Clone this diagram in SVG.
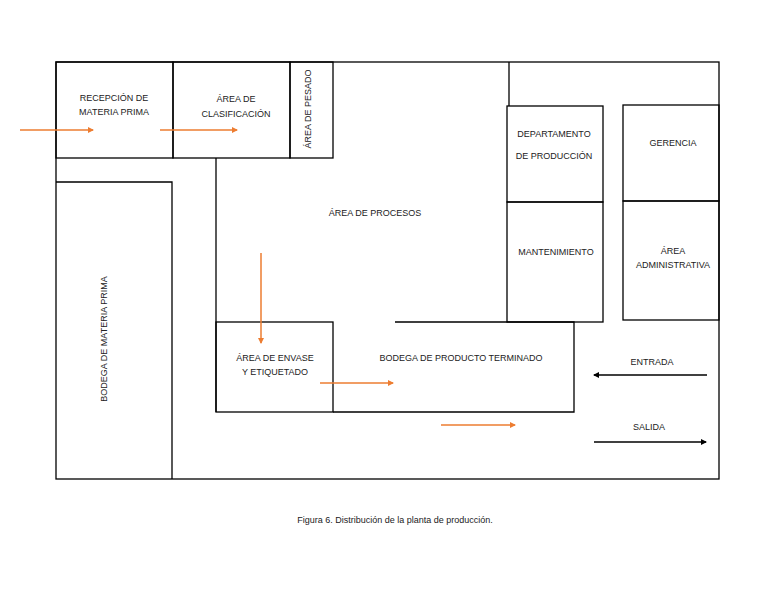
<svg xmlns="http://www.w3.org/2000/svg" width="768" height="594" viewBox="0 0 768 594">
<style>
.w{fill:none;stroke:#000;stroke-width:1.3}
.t{font-family:"Liberation Sans",Arial,sans-serif;font-size:9px;fill:#222;text-anchor:middle}
.o{stroke:#ED7D31;stroke-width:1.5;fill:none}
.k{stroke:#000;stroke-width:1.5;fill:none}
</style>
<defs>
<marker id="ao" markerWidth="6" markerHeight="6" refX="5" refY="3" orient="auto" markerUnits="userSpaceOnUse"><path d="M0,0L6,3L0,6z" fill="#ED7D31"/></marker>
<marker id="ak" markerWidth="6" markerHeight="6" refX="5" refY="3" orient="auto" markerUnits="userSpaceOnUse"><path d="M0,0L6,3L0,6z" fill="#000"/></marker>
</defs>
<rect width="768" height="594" fill="#fff"/>
<rect class="w" x="56" y="62" width="663" height="417" stroke-width="2"/>
<line class="w" x1="509" y1="62" x2="509" y2="106" stroke-width="2.5"/>
<line class="w" x1="216" y1="158" x2="216" y2="412"/>
<g id="recepcion"><rect class="w" x="56" y="62" width="117" height="96"/><text class="t" x="114" y="101">RECEPCIÓN DE</text><text class="t" x="114" y="115">MATERIA PRIMA</text></g>
<g id="clasificacion"><rect class="w" x="173" y="62" width="117" height="96"/><text class="t" x="236" y="102">ÁREA DE</text><text class="t" x="236" y="117">CLASIFICACIÓN</text></g>
<g id="pesado"><rect class="w" x="290" y="62" width="43" height="96"/><text class="t" transform="translate(311,109) rotate(-90)">ÁREA DE PESADO</text></g>
<g id="bodega-mp"><path class="w" d="M56,182H172V479"/><text class="t" transform="translate(107,339) rotate(-90)">BODEGA DE MATERIA PRIMA</text></g>
<g id="procesos"><text class="t" x="375" y="216">ÁREA DE PROCESOS</text></g>
<g id="envase"><rect class="w" x="216" y="322" width="117" height="90"/><text class="t" x="275" y="361">ÁREA DE ENVASE</text><text class="t" x="275" y="375">Y ETIQUETADO</text></g>
<g id="bodega-pt"><path class="w" d="M395,322H574V412H333"/><text class="t" x="461" y="361">BODEGA DE PRODUCTO TERMINADO</text></g>
<g id="departamento"><rect class="w" x="507" y="106" width="96" height="96"/><text class="t" x="554" y="137">DEPARTAMENTO</text><text class="t" x="554" y="159">DE PRODUCCIÓN</text></g>
<g id="mantenimiento"><rect class="w" x="507" y="202" width="96" height="120"/><text class="t" x="556" y="255">MANTENIMIENTO</text></g>
<g id="gerencia"><rect class="w" x="623" y="105" width="96" height="96"/><text class="t" x="673" y="146">GERENCIA</text></g>
<g id="administrativa"><rect class="w" x="623" y="201" width="96" height="119"/><text class="t" x="673" y="254">ÁREA</text><text class="t" x="673" y="268">ADMINISTRATIVA</text></g>
<g id="labels"><text class="t" x="652" y="365">ENTRADA</text><text class="t" x="649" y="430">SALIDA</text></g>
<g id="connectors">
<line class="o" x1="20" y1="130" x2="93" y2="130" marker-end="url(#ao)"/>
<line class="o" x1="160" y1="130" x2="237" y2="130" marker-end="url(#ao)"/>
<line class="o" x1="261" y1="253" x2="261" y2="343" marker-end="url(#ao)"/>
<line class="o" x1="320" y1="383" x2="393" y2="383" marker-end="url(#ao)"/>
<line class="o" x1="441" y1="425" x2="515" y2="425" marker-end="url(#ao)"/>
<line class="k" x1="707" y1="375" x2="594" y2="375" marker-end="url(#ak)"/>
<line class="k" x1="594" y1="442" x2="706" y2="442" marker-end="url(#ak)"/>
</g>
<text class="t" x="395" y="523" style="font-size:9px">Figura 6. Distribución de la planta de producción.</text>
</svg>
